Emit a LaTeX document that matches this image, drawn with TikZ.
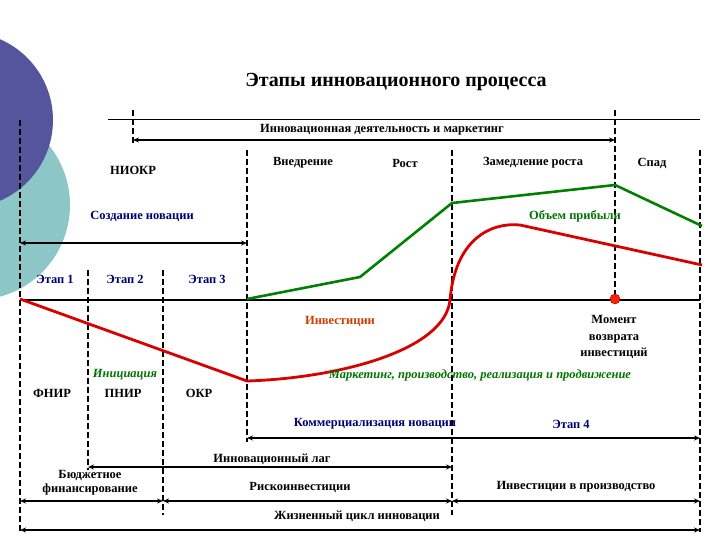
\documentclass[tikz,border=0pt]{standalone}
\usepackage{fontspec}
\setmainfont{Liberation Serif}
\usetikzlibrary{arrows.meta}
\begin{document}
\begin{tikzpicture}[x=1pt,y=-1pt,
  vd/.style={line width=1.5pt,dash pattern=on 6pt off 3pt},
  dimarrow/.style={line width=1.4pt,{Stealth[length=6pt,width=5pt]}-{Stealth[length=6pt,width=5pt]}},
  lbl/.style={font=\bfseries\fontsize{12.5}{14}\selectfont,inner sep=1pt},
  blbl/.style={lbl,text=blue!45!black},
  glbl/.style={lbl,text=green!45!black},
  ilbl/.style={glbl,font=\bfseries\itshape\fontsize{12.5}{14}\selectfont}]
\useasboundingbox (0,0) rectangle (720,540);
\clip (0,0) rectangle (720,540);
\fill[teal!45!white] (-25,205) circle (95);
\fill[blue!30!gray!95!black] (-35,120) circle (88);
% title
\node[font=\bfseries\fontsize{20}{24}\selectfont] (title) at (396,82) {Этапы инновационного процесса};
% dashed verticals
\draw[vd] (20,120) -- (20,532);
\draw[vd] (88,270) -- (88,470);
\draw[vd] (163,270) -- (163,515);
\draw[vd] (247,150) -- (247,442);
\draw[vd] (452,150) -- (452,515);
\draw[vd] (615,110) -- (615,300);
\draw[vd] (700,150) -- (700,532);
\draw[vd] (133,110) -- (133,145);
% horizontal lines
\coordinate (t1) at (108,120); \coordinate (t2) at (700,120);
\draw[line width=1pt] (t1) -- (t2);
\coordinate (a1) at (133,140); \coordinate (a2) at (615,140);
\draw[dimarrow] (a1) -- (a2);
\coordinate (b1) at (20,243); \coordinate (b2) at (247,243);
\draw[dimarrow] (b1) -- (b2);
\coordinate (x1) at (20,300); \coordinate (x2) at (700,300);
\draw[line width=1.8pt] (x1) -- (x2);
\coordinate (c1) at (247,438); \coordinate (c2) at (700,438);
\draw[dimarrow] (c1) -- (c2);
\coordinate (d1) at (88,467); \coordinate (d2) at (452,467);
\draw[dimarrow] (d1) -- (d2);
\coordinate (e1) at (20,501); \coordinate (e2) at (163,501); \coordinate (e3) at (452,501); \coordinate (e4) at (700,501);
\draw[dimarrow] (e1) -- (e2);
\draw[dimarrow] (e2) -- (e3);
\draw[dimarrow] (e3) -- (e4);
\coordinate (f1) at (20,530); \coordinate (f2) at (700,530);
\draw[dimarrow] (f1) -- (f2);
% curves
\draw[green!50!black,line width=2.6pt] (247,299) -- (360,277) -- (452,203) -- (615,185) -- (702,226);
\draw[red!85!black,line width=2.8pt] (20,299) -- (247,381) .. controls (340,378) and (445,350) .. (450,300)
  .. controls (455,240) and (490,222) .. (520,225) -- (702,265);
\node[circle,fill=red!75!orange,draw=red!60!black,inner sep=0pt,minimum size=10pt] (dot) at (615,299) {};
% labels
\node[lbl] (ia) at (382,130) {Инновационная деятельность и маркетинг};
\node[lbl] (niokr) at (133,170) {НИОКР};
\node[lbl] (vn) at (303,163) {Внедрение};
\node[lbl] (rost) at (405,163) {Рост};
\node[lbl] (zam) at (533,163) {Замедление роста};
\node[lbl] (spad) at (652,163) {Спад};
\node[blbl] (sozd) at (142,216) {Создание новации};
\node[glbl] (obem) at (575,216) {Объем прибыли};
\node[blbl] (e1l) at (55,279) {Этап 1};
\node[blbl] (e2l) at (125,279) {Этап 2};
\node[blbl] (e3l) at (207,279) {Этап 3};
\node[lbl,text=orange!60!red!80!black] (inv) at (340,321) {Инвестиции};
\node[lbl,align=center,font=\bfseries\fontsize{12.5}{16.5}\selectfont] (mom) at (614,337) {Момент\\возврата\\инвестиций};
\node[ilbl] (ini) at (125,375) {Инициация};
\node[ilbl] (mark) at (480,375) {Маркетинг, производство, реализация и продвижение};
\node[lbl] (fnir) at (52,393) {ФНИР};
\node[lbl] (pnir) at (123,393) {ПНИР};
\node[lbl] (okr) at (199,393) {ОКР};
\node[blbl] (komm) at (375,424) {Коммерциализация новации};
\node[blbl] (e4l) at (571,424) {Этап 4};
\node[lbl] (lag) at (272,459) {Инновационный лаг};
\node[lbl,align=center,font=\bfseries\fontsize{12.5}{14}\selectfont] (bud) at (90,483) {Бюджетное\\финансирование};
\node[lbl] (risk) at (300,487) {Рискоинвестиции};
\node[lbl] (invp) at (576,487) {Инвестиции в производство};
\node[lbl] (zh) at (357,516) {Жизненный цикл инновации};
\end{tikzpicture}
\end{document}
